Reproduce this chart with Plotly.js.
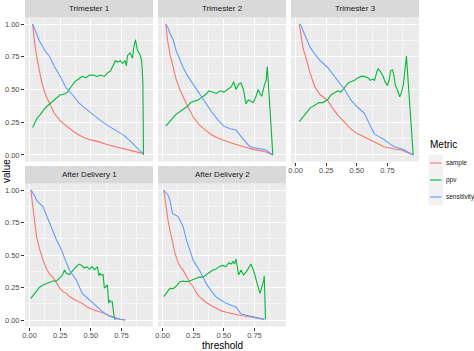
<!DOCTYPE html>
<html>
<head>
<meta charset="utf-8">
<script src="https://cdn.plot.ly/plotly-3.0.1.min.js"></script>
<style>html,body{margin:0;padding:0;background:#fff;}#chart{width:474px;height:351px;}</style>
</head>
<body>
<div id="chart"></div>
<script>
// ---------- DATA ----------
const panels = ["Trimester 1", "Trimester 2", "Trimester 3", "After Delivery 1", "After Delivery 2"];
const metrics = ["sample", "ppv", "sensitivity"];
const xTicks = [0, 0.25, 0.5, 0.75];
const xTickLabels = ["0.00", "0.25", "0.50", "0.75"];
const yTicks = [0, 0.25, 0.5, 0.75, 1];
const yTickLabels = ["0.00", "0.25", "0.50", "0.75", "1.00"];

// Trimester 1
const t1_x = [0.025,0.04,0.06,0.08,0.10,0.13,0.165,0.20,0.25,0.30,0.35,0.40,0.45,0.50,0.57,0.63,0.70,0.77,0.84,0.89,0.93];
const t1_sample = [1.0,0.86,0.74,0.63,0.55,0.46,0.39,0.32,0.26,0.22,0.185,0.155,0.13,0.115,0.10,0.08,0.063,0.045,0.033,0.02,0.01];
const t1_sens = [1.0,0.96,0.91,0.87,0.84,0.79,0.75,0.68,0.60,0.51,0.46,0.40,0.36,0.32,0.27,0.23,0.19,0.15,0.09,0.04,0.01];
const t1_ppv_x = [0.025,0.04,0.06,0.08,0.10,0.12,0.14,0.165,0.19,0.21,0.23,0.25,0.27,0.29,0.31,0.33,0.35,0.37,0.40,0.43,0.46,0.49,0.52,0.55,0.58,0.61,0.64,0.66,0.68,0.70,0.72,0.74,0.76,0.78,0.79,0.80,0.82,0.84,0.85,0.865,0.88,0.90,0.915,0.925,0.93];
const t1_ppv = [0.21,0.24,0.28,0.30,0.33,0.35,0.37,0.39,0.41,0.43,0.44,0.46,0.46,0.47,0.48,0.51,0.54,0.56,0.58,0.60,0.59,0.61,0.61,0.60,0.61,0.60,0.63,0.64,0.68,0.72,0.71,0.72,0.70,0.72,0.68,0.76,0.78,0.74,0.82,0.88,0.80,0.77,0.72,0.55,0.0];

// Trimester 2
const t2_x = [0.027,0.04,0.06,0.086,0.11,0.14,0.167,0.20,0.25,0.30,0.35,0.40,0.45,0.50,0.55,0.60,0.65,0.71,0.77,0.84,0.90];
const t2_sample = [1.0,0.88,0.77,0.67,0.58,0.50,0.445,0.38,0.29,0.23,0.19,0.155,0.13,0.11,0.095,0.08,0.065,0.05,0.037,0.025,0.0];
const t2_sens = [1.0,0.98,0.93,0.88,0.80,0.73,0.67,0.61,0.54,0.46,0.40,0.33,0.27,0.22,0.20,0.19,0.13,0.065,0.05,0.04,0.0];
const t2_ppv_x = [0.027,0.05,0.08,0.11,0.14,0.167,0.20,0.23,0.26,0.29,0.32,0.35,0.38,0.41,0.44,0.47,0.50,0.53,0.56,0.58,0.60,0.62,0.64,0.66,0.68,0.70,0.72,0.74,0.76,0.78,0.80,0.81,0.83,0.845,0.855,0.90];
const t2_ppv = [0.22,0.25,0.28,0.31,0.33,0.35,0.37,0.40,0.41,0.42,0.44,0.46,0.49,0.48,0.47,0.49,0.48,0.50,0.52,0.56,0.50,0.54,0.55,0.50,0.39,0.42,0.41,0.40,0.44,0.50,0.46,0.45,0.53,0.57,0.675,0.0];

// Trimester 3
const t3_x = [0.03,0.045,0.06,0.09,0.12,0.157,0.20,0.26,0.30,0.345,0.40,0.45,0.50,0.56,0.61,0.64,0.68,0.72,0.76,0.805,0.857,0.885,0.92,0.96];
const t3_sample = [1.0,0.90,0.82,0.725,0.62,0.52,0.46,0.42,0.36,0.305,0.25,0.20,0.165,0.14,0.115,0.10,0.08,0.063,0.055,0.045,0.04,0.03,0.02,0.0];
const t3_sens = [1.0,0.99,0.95,0.88,0.82,0.77,0.72,0.67,0.62,0.57,0.50,0.42,0.37,0.32,0.22,0.165,0.14,0.12,0.09,0.063,0.05,0.04,0.02,0.0];
const t3_ppv_x = [0.03,0.06,0.09,0.12,0.157,0.19,0.22,0.26,0.29,0.32,0.345,0.37,0.40,0.43,0.45,0.48,0.51,0.535,0.56,0.59,0.61,0.63,0.645,0.655,0.665,0.675,0.69,0.71,0.73,0.75,0.765,0.775,0.79,0.80,0.815,0.83,0.85,0.865,0.88,0.895,0.905,0.96];
const t3_ppv = [0.255,0.29,0.33,0.36,0.38,0.40,0.40,0.42,0.46,0.48,0.49,0.48,0.52,0.55,0.56,0.57,0.59,0.60,0.60,0.59,0.57,0.58,0.57,0.61,0.64,0.66,0.64,0.61,0.56,0.53,0.58,0.64,0.65,0.62,0.53,0.50,0.445,0.48,0.54,0.65,0.755,0.0];

// After Delivery 1
const a1_x = [0.01,0.02,0.03,0.045,0.057,0.08,0.11,0.14,0.165,0.19,0.22,0.25,0.27,0.30,0.325,0.35,0.38,0.43,0.47,0.515,0.55,0.595,0.65,0.70,0.74,0.78];
const a1_sample = [1.0,0.93,0.85,0.74,0.64,0.55,0.46,0.39,0.35,0.33,0.28,0.24,0.22,0.205,0.18,0.165,0.15,0.128,0.10,0.08,0.07,0.055,0.035,0.018,0.006,0.0];
const a1_sens = [1.0,0.99,0.97,0.95,0.92,0.90,0.87,0.80,0.74,0.69,0.615,0.56,0.51,0.45,0.385,0.35,0.31,0.205,0.17,0.128,0.10,0.064,0.03,0.012,0.005,0.0];
const a1_ppv_x = [0.01,0.03,0.057,0.08,0.11,0.14,0.17,0.19,0.22,0.245,0.265,0.285,0.30,0.325,0.35,0.38,0.405,0.425,0.445,0.465,0.49,0.51,0.53,0.545,0.555,0.565,0.575,0.585,0.60,0.61,0.625,0.635,0.645,0.655,0.665,0.675,0.69,0.70];
const a1_ppv = [0.167,0.19,0.23,0.25,0.27,0.28,0.29,0.30,0.30,0.32,0.34,0.385,0.36,0.35,0.38,0.41,0.43,0.42,0.40,0.41,0.39,0.41,0.385,0.40,0.41,0.34,0.36,0.345,0.35,0.245,0.26,0.27,0.13,0.15,0.14,0.14,0.025,0.0];

// After Delivery 2
const a2_x = [0.01,0.02,0.033,0.045,0.06,0.08,0.10,0.127,0.15,0.167,0.195,0.22,0.25,0.275,0.30,0.33,0.356,0.40,0.435,0.48,0.52,0.57,0.60,0.64,0.71,0.77,0.83];
const a2_sample = [1.0,0.92,0.84,0.76,0.69,0.59,0.52,0.44,0.40,0.385,0.33,0.29,0.256,0.21,0.18,0.154,0.135,0.11,0.09,0.07,0.06,0.05,0.04,0.035,0.025,0.015,0.005];
const a2_sens = [1.0,0.99,0.98,0.96,0.92,0.82,0.81,0.795,0.75,0.72,0.615,0.54,0.46,0.42,0.385,0.33,0.28,0.22,0.18,0.15,0.128,0.11,0.10,0.046,0.03,0.02,0.005];
const a2_ppv_x = [0.01,0.03,0.06,0.08,0.10,0.12,0.14,0.167,0.195,0.22,0.25,0.275,0.30,0.33,0.356,0.38,0.41,0.435,0.46,0.49,0.52,0.54,0.56,0.575,0.585,0.60,0.61,0.62,0.64,0.66,0.69,0.72,0.74,0.755,0.775,0.795,0.81,0.825,0.83,0.84];
const a2_ppv = [0.18,0.21,0.245,0.24,0.25,0.27,0.295,0.30,0.295,0.30,0.31,0.32,0.33,0.33,0.346,0.36,0.385,0.39,0.41,0.42,0.41,0.44,0.43,0.45,0.43,0.467,0.40,0.346,0.385,0.346,0.38,0.43,0.39,0.33,0.27,0.205,0.245,0.30,0.34,0.005];

// ---------- STYLE / LAYOUT ----------
const W = 474, H = 351;
const colors = {sample: "#F8766D", ppv: "#00BA38", sensitivity: "#619CFF"};
const FONT = "'Liberation Sans Narrow', 'Liberation Sans', Arial, sans-serif";
const px = v => v / W;
const py = v => 1 - v / H;

const panelData = [
  {x: t1_x, sample: t1_sample, sens: t1_sens, ppvx: t1_ppv_x, ppv: t1_ppv},
  {x: t2_x, sample: t2_sample, sens: t2_sens, ppvx: t2_ppv_x, ppv: t2_ppv},
  {x: t3_x, sample: t3_sample, sens: t3_sens, ppvx: t3_ppv_x, ppv: t3_ppv},
  {x: a1_x, sample: a1_sample, sens: a1_sens, ppvx: a1_ppv_x, ppv: a1_ppv},
  {x: a2_x, sample: a2_sample, sens: a2_sens, ppvx: a2_ppv_x, ppv: a2_ppv}
];

const colX = [[25, 153], [158, 286], [291, 419]];
const rowY = [[17.5, 161.5], [183.5, 326.5]];
const stripY = [[0, 17.5], [166, 183.5]];
const pos = [[0,0],[1,0],[2,0],[0,1],[1,1]];

const traces = [];
const layout = {
  width: W, height: H, autosize: false,
  margin: {l: 0, r: 0, t: 0, b: 0, pad: 0},
  paper_bgcolor: "#FFFFFF", plot_bgcolor: "#EBEBEB",
  showlegend: false,
  font: {family: FONT, size: 7.5, color: "#4D4D4D"},
  shapes: [], annotations: []
};

panelData.forEach((d, i) => {
  const n = i === 0 ? "" : String(i + 1);
  const xa = "x" + n, ya = "y" + n;
  const [c, r] = pos[i];
  const showXLabels = (i >= 2);
  const showYLabels = (c === 0);
  const lw = 1.1;
  traces.push({x: d.x, y: d.sample, xaxis: xa, yaxis: ya, type: "scatter", mode: "lines", name: metrics[0],
               line: {color: colors.sample, width: lw}, hoverinfo: "skip"});
  traces.push({x: d.ppvx, y: d.ppv, xaxis: xa, yaxis: ya, type: "scatter", mode: "lines", name: metrics[1],
               line: {color: colors.ppv, width: lw}, hoverinfo: "skip"});
  traces.push({x: d.x, y: d.sens, xaxis: xa, yaxis: ya, type: "scatter", mode: "lines", name: metrics[2],
               line: {color: colors.sensitivity, width: lw}, hoverinfo: "skip"});

  layout["xaxis" + n] = {
    domain: [px(colX[c][0]), px(colX[c][1])], anchor: ya,
    range: [-0.0375, 1.0075], tickmode: "array", tickvals: xTicks, ticktext: xTickLabels,
    showticklabels: showXLabels, ticks: showXLabels ? "outside" : "", ticklen: 3, tickwidth: 1, tickcolor: "#333333",
    ticklabelstandoff: -2,
    tickfont: {family: FONT, size: 7.5, color: "#4D4D4D"},
    showgrid: true, gridcolor: "#FFFFFF", gridwidth: 1, zeroline: false, showline: false,
    minor: {tickmode: "array", tickvals: [0.125, 0.375, 0.625, 0.875], showgrid: true, gridcolor: "#FFFFFF", gridwidth: 0.5, ticks: ""},
    fixedrange: true
  };
  layout["yaxis" + n] = {
    domain: [py(rowY[r][1]), py(rowY[r][0])], anchor: xa,
    range: [-0.05, 1.05], tickmode: "array", tickvals: yTicks, ticktext: yTickLabels,
    showticklabels: showYLabels, ticks: showYLabels ? "outside" : "", ticklen: 3, tickwidth: 1, tickcolor: "#333333",
    tickfont: {family: FONT, size: 7.5, color: "#4D4D4D"},
    showgrid: true, gridcolor: "#FFFFFF", gridwidth: 1, zeroline: false, showline: false,
    minor: {tickmode: "array", tickvals: [0.125, 0.375, 0.625, 0.875], showgrid: true, gridcolor: "#FFFFFF", gridwidth: 0.5, ticks: ""},
    fixedrange: true
  };

  layout.shapes.push({type: "rect", xref: "paper", yref: "paper",
    x0: px(colX[c][0]), x1: px(colX[c][1]), y0: py(stripY[r][1]), y1: py(stripY[r][0]),
    fillcolor: "#D9D9D9", line: {width: 0}, layer: "below"});
  layout.annotations.push({xref: "paper", yref: "paper", x: px((colX[c][0] + colX[c][1]) / 2),
    y: py((stripY[r][0] + stripY[r][1]) / 2), text: panels[i], showarrow: false,
    xanchor: "center", yanchor: "middle", font: {family: FONT, size: 8, color: "#1A1A1A"}});
});

// axis titles
layout.annotations.push({xref: "paper", yref: "paper", x: px(222), y: py(345), text: "threshold",
  showarrow: false, xanchor: "center", yanchor: "middle", font: {family: FONT, size: 10, color: "#000000"}});
layout.annotations.push({xref: "paper", yref: "paper", x: px(6), y: py(171), text: "value", textangle: -90,
  showarrow: false, xanchor: "center", yanchor: "middle", font: {family: FONT, size: 10, color: "#000000"}});

// legend (drawn manually, ggplot style)
layout.annotations.push({xref: "paper", yref: "paper", x: px(428), y: py(144), text: "Metric",
  showarrow: false, xanchor: "left", yanchor: "middle", font: {family: FONT, size: 10, color: "#000000"}});
const keyY = [163, 180, 197];
metrics.forEach((m, k) => {
  layout.shapes.push({type: "rect", xref: "paper", yref: "paper",
    x0: px(428.5), x1: px(443), y0: py(keyY[k] + 8.5), y1: py(keyY[k] - 8.5),
    fillcolor: "#F2F2F2", line: {width: 0}});
  layout.shapes.push({type: "line", xref: "paper", yref: "paper",
    x0: px(430), x1: px(441.5), y0: py(keyY[k]), y1: py(keyY[k]),
    line: {color: colors[m], width: 1.1}});
  layout.annotations.push({xref: "paper", yref: "paper", x: px(444), y: py(keyY[k]), text: m,
    showarrow: false, xanchor: "left", yanchor: "middle", font: {family: FONT, size: 6.5, color: "#1A1A1A"}});
});

Plotly.newPlot("chart", traces, layout, {staticPlot: true, displayModeBar: false});
</script>
</body>
</html>
